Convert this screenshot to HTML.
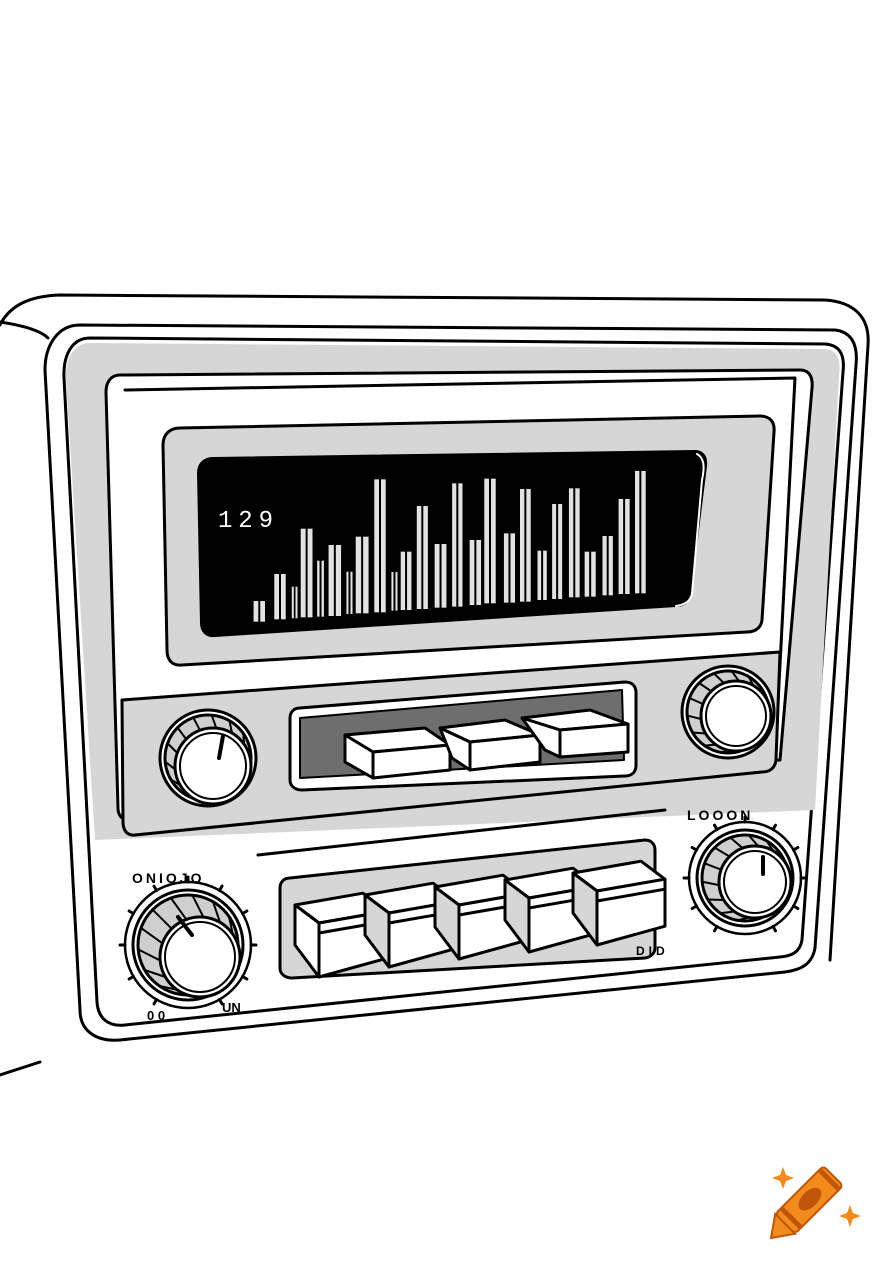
<!DOCTYPE html>
<html><head><meta charset="utf-8"><style>
html,body{margin:0;padding:0;background:#fff;width:896px;height:1280px;overflow:hidden}
svg{display:block}
</style></head><body>
<svg id="s" width="896" height="1280" viewBox="0 0 896 1280" xmlns="http://www.w3.org/2000/svg" font-family="Liberation Sans, sans-serif">
<g fill="none" stroke="#000" stroke-width="3" stroke-linejoin="round" stroke-linecap="round">
<path d="M0,325 C10,305 30,296 60,295 L825,300 C855,302 870,318 868,345 L830,960" fill="#fff"/>
<path d="M0,322 C20,325 40,330 48,338"/>
<path d="M0,1075 L40,1062"/>
<path d="M80,325 L835,330 C852,332 858,345 856,365 L815,948 C812,965 800,970 785,972 L120,1040 C95,1042 80,1030 80,1010 L45,370 C45,345 58,325 80,325 Z" fill="#fff"/>
<path d="M90,338 L825,344 C840,345 845,355 843,372 L802,940 C800,952 792,956 780,957 L125,1025 C108,1027 98,1018 97,1002 L64,378 C63,355 72,338 90,338 Z" fill="#fff"/>
<path d="M90,343 L825,349 C838,350 841,360 839,375 L815,810 L95,840 L66,380 C65,358 74,343 90,343 Z" fill="#d6d6d6" stroke="none"/>
<path d="M120,375 L800,370 C810,370 813,378 812,388 L780,760 L128,820 C122,820 118,815 118,808 L106,392 C106,382 111,375 120,375 Z" fill="#fff"/>
<path d="M125,390 L795,378 L775,760" />
<path d="M180,428 L760,416 C770,416 775,422 774,432 L762,620 C761,628 755,632 747,632 L182,665 C172,666 167,660 167,650 L163,445 C163,434 170,428 180,428 Z" fill="#d6d6d6"/>
<path d="M213,458 L695,451 C703,451 707,457 706,466 L690,595 C689,602 684,606 676,606 L215,636 C206,637 201,631 201,623 L198,473 C198,464 204,458 213,458 Z" fill="#000" stroke-width="2"/>
<path d="M697,454 C704,458 705,466 702,480 L692,594 C690,602 684,605 676,606" stroke="#fff" stroke-width="2"/>
<path d="M122,700 L780,652 L776,760 C775,768 770,772 762,772 L135,835 C127,836 123,830 123,822 Z" fill="#d6d6d6"/>
<path d="M300,708 L625,682 C632,682 636,686 636,693 L636,765 C636,772 632,776 625,776 L302,790 C295,790 290,786 290,780 L290,718 C290,712 294,708 300,708 Z" fill="#fff"/>
<path d="M300,718 L622,690 L624,760 L300,778 Z" fill="#6e6e6e" stroke-width="2"/>
<path d="M345,735 L425,728 L450,745 L373,752 Z" fill="#fff"/><path d="M345,735 L345,762 L373,778 L373,752 Z" fill="#fff"/><path d="M373,752 L450,745 L450,770 L373,778 Z" fill="#fff"/>
<path d="M440,728 L505,720 L540,735 L470,742 Z" fill="#fff"/><path d="M440,728 L470,742 L470,770 L452,758 Z" fill="#fff"/><path d="M470,742 L540,735 L540,762 L470,770 Z" fill="#fff"/>
<path d="M522,718 L590,710 L628,724 L560,730 Z" fill="#fff"/><path d="M522,718 L560,730 L560,757 L545,750 Z" fill="#fff"/><path d="M560,730 L628,724 L628,752 L560,757 Z" fill="#fff"/>
<path d="M258,855 L665,810"/>
<path d="M290,878 L645,840 C651,840 655,844 655,850 L655,948 C655,953 651,957 645,958 L292,978 C285,978 280,974 280,968 L280,888 C280,882 284,878 290,878 Z" fill="#d6d6d6"/>
<g id="btns"></g>
<g id="knobs"></g>
</g>
<g fill="#000" font-weight="bold" font-size="14">
<text x="132" y="883" letter-spacing="3">ONIOJO</text>
<text x="147" y="1020" font-size="13">0 0</text>
<text x="222" y="1012" font-size="13">UN</text>
<text x="687" y="820" letter-spacing="3">LOOON</text>
<text x="636" y="955" font-size="12" letter-spacing="4">DID</text>
</g>
<text x="218" y="527" fill="#fff" font-size="24" font-family="Liberation Mono, monospace" textLength="55">129</text>
<g id="bars"></g>
<g transform="translate(812,1197) rotate(-45)">
<rect x="-38" y="-14" width="68" height="28" rx="4" fill="#f28a1c" stroke="#c0560a" stroke-width="2"/>
<polygon points="-38,-14 -58,0 -38,14" fill="#f28a1c" stroke="#c0560a" stroke-width="2"/>
<ellipse cx="-3" cy="0" rx="14" ry="8" fill="#c0560a"/>
<rect x="22" y="-14" width="5" height="28" fill="#c0560a"/>
<rect x="-32" y="-14" width="5" height="28" fill="#c0560a"/>
</g>
<path d="M783,1167 l3,8 8,3 -8,3 -3,8 -3,-8 -8,-3 8,-3z" fill="#f28a1c"/>
<path d="M850,1205 l3,8 8,3 -8,3 -3,8 -3,-8 -8,-3 8,-3z" fill="#f28a1c"/>
</svg>
<script>
var NS="http://www.w3.org/2000/svg";
function el(p,t,a){var e=document.createElementNS(NS,t);for(var k in a)e.setAttribute(k,a[k]);p.appendChild(e);return e;}
var bars=[[290,322,543,605],[348,380,462,598],[397,413,500,595],[422,455,326,592],[468,487,422,590],[500,535,375,588],[550,567,455,582],[576,612,350,580],[628,660,178,577],[676,693,456,572],[702,732,395,570],[747,778,258,567],[797,830,372,563],[846,875,190,560],[895,927,360,555],[936,968,176,550],[991,1022,340,548],[1036,1066,207,545],[1085,1111,392,540],[1126,1154,252,537],[1173,1203,205,532],[1217,1248,395,530],[1267,1296,348,526],[1312,1343,237,522],[1358,1388,153,520]];
var g=document.getElementById("bars");
bars.forEach(function(b){var x1=150+b[0]/2.8,x2=150+b[1]/2.8,t=420+b[2]/3,bt=420+b[3]/3;var w=(x2-x1);var sw=Math.max(2,(w-2)/2);
el(g,"rect",{x:x1,y:t,width:sw,height:bt-t,fill:"#e2e2e2"});el(g,"rect",{x:x2-sw,y:t,width:sw,height:bt-t,fill:"#e2e2e2"});});
var bg=document.getElementById("btns");
var B=[[295,905],[365,895],[435,887],[505,880],[573,873]];
B.forEach(function(b,i){var x=b[0],y=b[1];var w=80,sl=-0.11;
el(bg,"path",{d:"M"+x+","+y+" L"+(x+w-12)+","+(y+w*sl-3)+" L"+(x+w+12)+","+(y+w*sl+15)+" L"+(x+24)+","+(y+18)+" Z",fill:"#fff"});
el(bg,"path",{d:"M"+x+","+y+" L"+(x+24)+","+(y+18)+" L"+(x+24)+","+(y+72)+" L"+x+","+(y+40)+" Z",fill:i==0?"#fff":"#d6d6d6"});
el(bg,"path",{d:"M"+(x+24)+","+(y+18)+" L"+(x+w+12)+","+(y+w*sl+15)+" L"+(x+w+12)+","+(y+w*sl+62)+" L"+(x+24)+","+(y+72)+" Z",fill:"#fff"});
el(bg,"path",{d:"M"+(x+24)+","+(y+28)+" L"+(x+w+12)+","+(y+w*sl+25)});
});
var kg=document.getElementById("knobs");
function knob(cx,cy,r,r2,ox,oy,ind,ticks){
 if(ticks){el(kg,"circle",{cx:cx,cy:cy,r:r+8,"stroke-width":2.5});
  for(var a=0;a<360;a+=30){var ra=a*Math.PI/180;if(a>60&&a<120)continue;el(kg,"line",{x1:cx+Math.cos(ra)*(r+8),y1:cy+Math.sin(ra)*(r+8),x2:cx+Math.cos(ra)*(r+13),y2:cy+Math.sin(ra)*(r+13),"stroke-width":3});}}
 el(kg,"circle",{cx:cx,cy:cy,r:r,fill:"#fff"});
 el(kg,"circle",{cx:cx,cy:cy,r:r-5,fill:"#cfcfcf"});
 for(var a=0;a<360;a+=25){var ra=a*Math.PI/180;el(kg,"line",{x1:cx+Math.cos(ra)*(r-5),y1:cy+Math.sin(ra)*(r-5),x2:cx+ox+Math.cos(ra)*r2,y2:cy+oy+Math.sin(ra)*r2,"stroke-width":2});}
 el(kg,"circle",{cx:cx+ox,cy:cy+oy,r:r2,fill:"#fff"});
 el(kg,"circle",{cx:cx+ox,cy:cy+oy,r:r2-5,fill:"#fff","stroke-width":2});
 if(ind)el(kg,"line",{x1:cx+ox+ind[0],y1:cy+oy+ind[1],x2:cx+ox+ind[2],y2:cy+oy+ind[3],"stroke-width":4});
}
knob(208,758,48,38,5,8,[10,-30,6,-8],false);
knob(728,712,46,35,8,4,null,false);
knob(188,945,55,40,12,12,[-22,-40,-8,-22],true);
knob(745,878,48,36,10,4,[8,-25,8,-8],true);
</script>
</body></html>
